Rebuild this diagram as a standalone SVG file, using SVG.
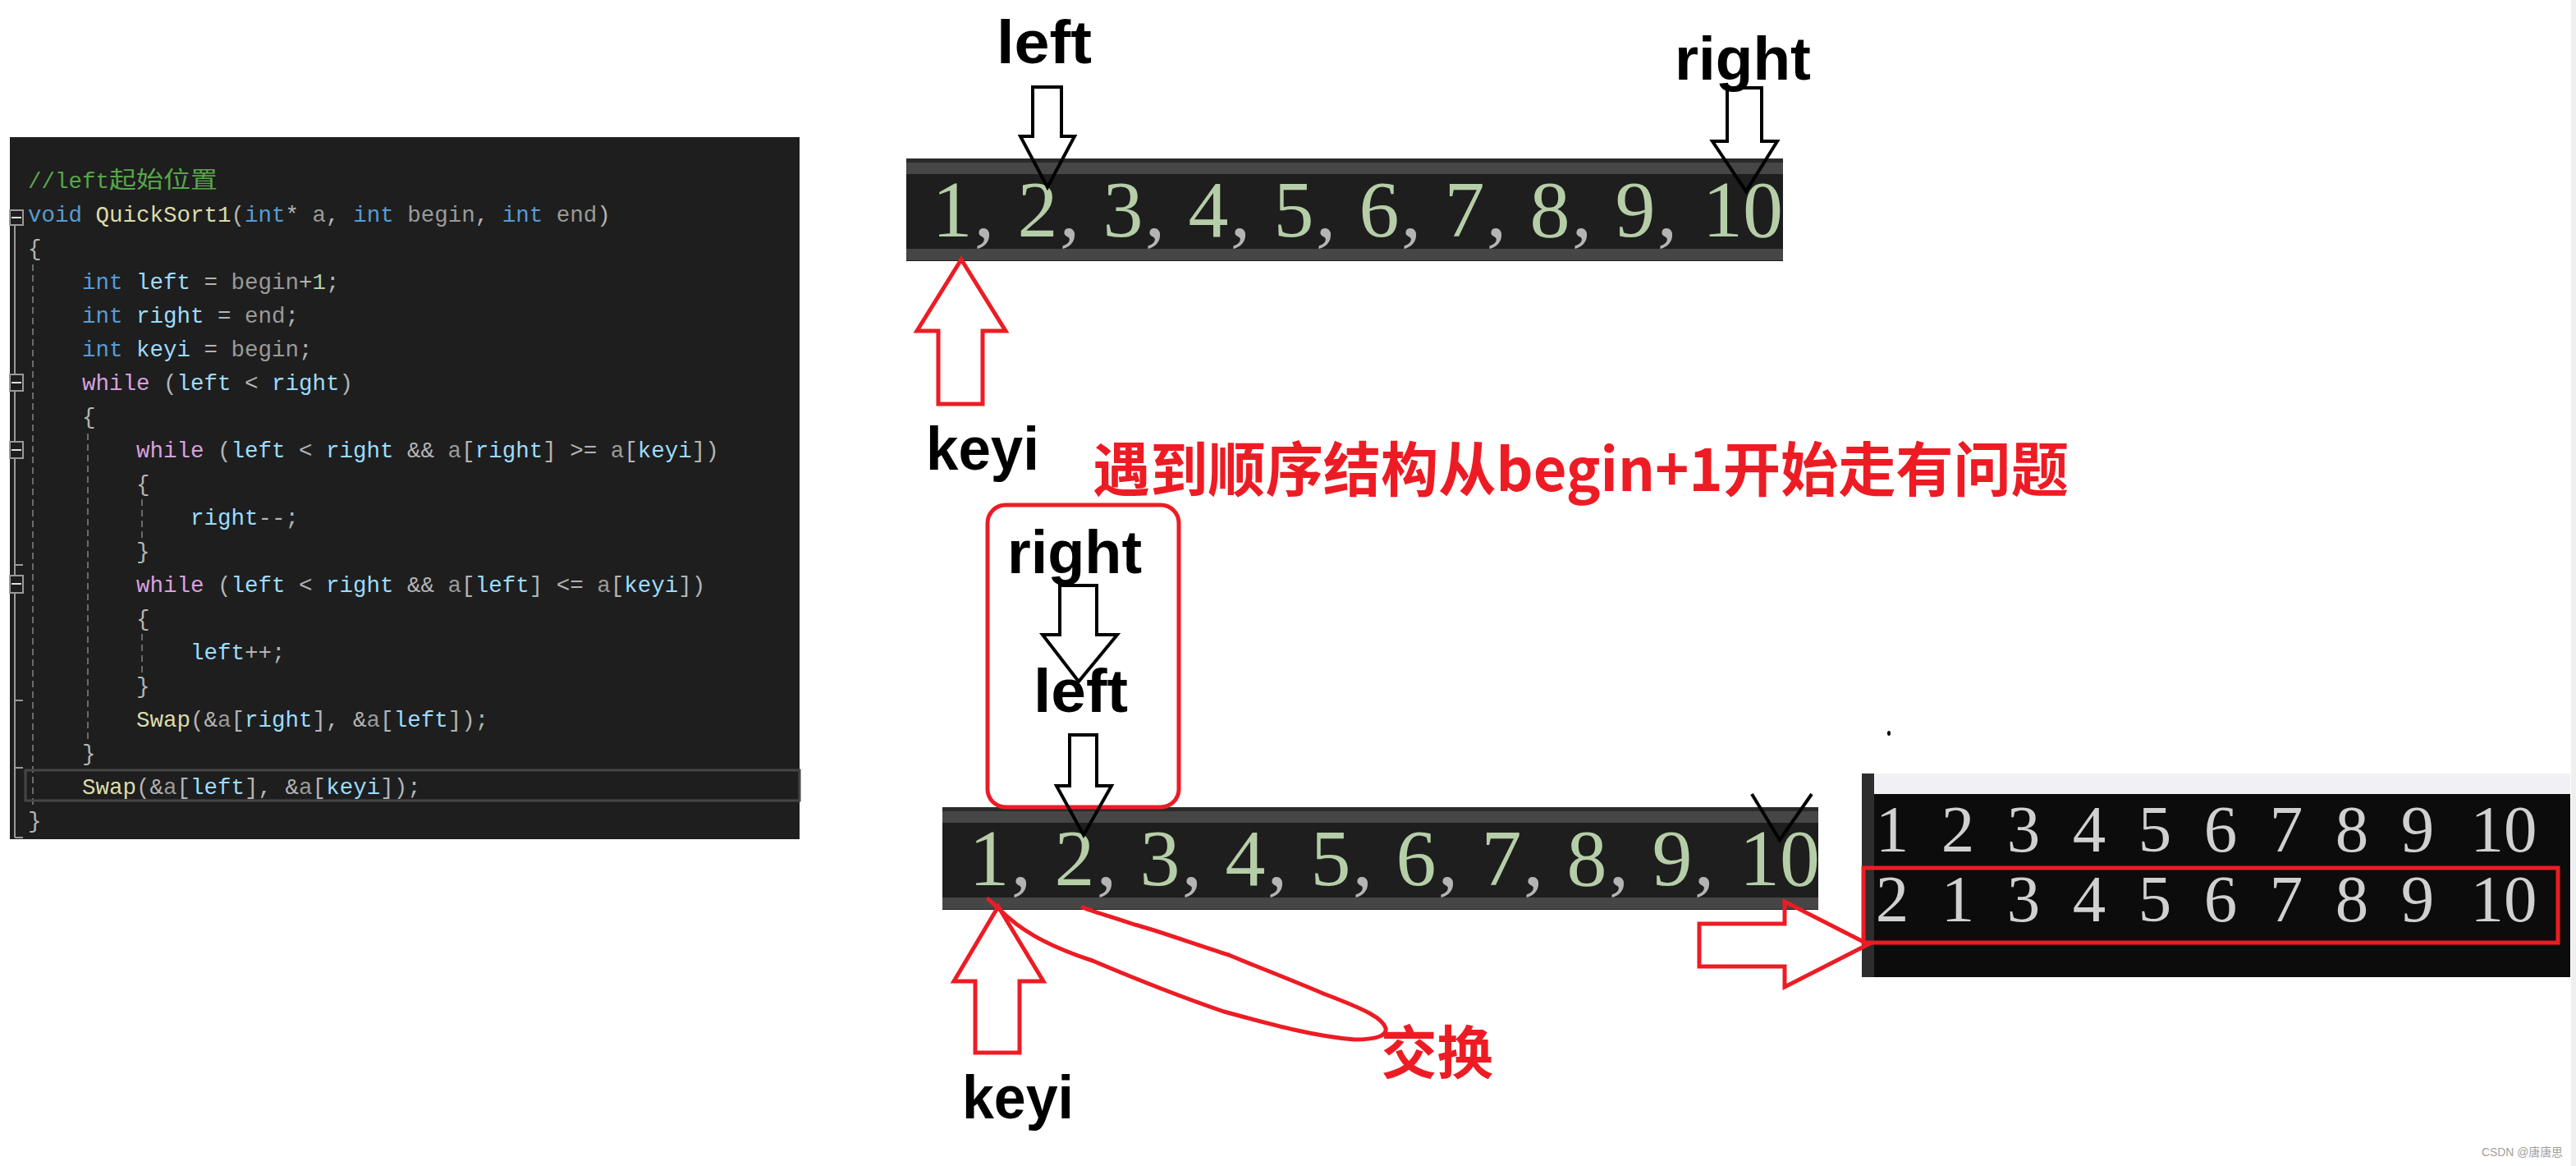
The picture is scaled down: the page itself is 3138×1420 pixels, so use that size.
<svg xmlns="http://www.w3.org/2000/svg" width="3138" height="1420" viewBox="0 0 3138 1420">
<style>
.code{font-family:"Liberation Mono","DejaVu Sans Mono",monospace;font-size:27.5px}
.cjkc{font-family:"Noto Sans CJK SC",sans-serif;font-size:28px;fill:#57A64A}
.k{fill:#569CD6}.c{fill:#D8A0DF}.f{fill:#DCDCAA}.p{fill:#9A9A9A}.v{fill:#9CDCFE}.o{fill:#B4B4B4}.n{fill:#B5CEA8}.cm{fill:#57A64A}
.lbl{font-family:"Liberation Sans","Noto Sans",sans-serif;font-weight:bold;font-size:75px;fill:#000}
.red{font-family:"Noto Sans CJK SC","Liberation Sans",sans-serif;font-weight:bold;fill:#ED1C24}
.dig{font-family:"Liberation Serif",serif;font-size:98px;fill:#B5CEA8;text-anchor:middle}
.com{font-family:"Liberation Serif",serif;font-size:98px;fill:#B4B4B4;text-anchor:middle}
.cdig{font-family:"Liberation Serif",serif;font-size:81px;fill:#D0D0D0;text-anchor:middle}
.barrow{fill:none;stroke:#000;stroke-width:4;stroke-linejoin:miter}
.rarrow{fill:none;stroke:#ED1C24;stroke-width:5;stroke-linejoin:miter}
.band{fill:#464646}
.fold{fill:#1e1e1e;stroke:#9a9a9a;stroke-width:2}
.guide{stroke:#6a6a6a;stroke-width:2;stroke-dasharray:8,5}
</style>
<defs>
<clipPath id="clipTop"><rect x="1104" y="193" width="1068" height="125"/></clipPath>
<clipPath id="clipBot"><rect x="1148" y="983" width="1067" height="125"/></clipPath>
</defs>
<rect x="0" y="0" width="3138" height="1420" fill="#ffffff"/>
<rect x="3132" y="0" width="6" height="1420" fill="#efefef"/>

<g id="code-panel">
<rect x="12" y="167" width="962" height="855" fill="#1e1e1e"/>
<g id="code-margin">
<line x1="18" y1="273" x2="18" y2="1020" stroke="#9a9a9a" stroke-width="2"/>
<line x1="18" y1="688" x2="28" y2="688" stroke="#9a9a9a" stroke-width="2"/>
<line x1="18" y1="853" x2="28" y2="853" stroke="#9a9a9a" stroke-width="2"/>
<line x1="18" y1="935" x2="28" y2="935" stroke="#9a9a9a" stroke-width="2"/>
<line x1="18" y1="1020" x2="28" y2="1020" stroke="#9a9a9a" stroke-width="2"/>
<rect class="fold" x="12" y="256" width="16" height="18"/><line x1="14" y1="265" x2="26" y2="265" stroke="#e0e0e0" stroke-width="2"/>
<rect class="fold" x="12" y="456" width="16" height="20"/><line x1="14" y1="466" x2="26" y2="466" stroke="#e0e0e0" stroke-width="2"/>
<rect class="fold" x="12" y="538" width="16" height="20"/><line x1="14" y1="548" x2="26" y2="548" stroke="#e0e0e0" stroke-width="2"/>
<rect class="fold" x="12" y="701" width="16" height="21"/><line x1="14" y1="711" x2="26" y2="711" stroke="#e0e0e0" stroke-width="2"/>
<line class="guide" x1="40" y1="322" x2="40" y2="982"/>
<line class="guide" x1="107" y1="528" x2="107" y2="902"/>
<line class="guide" x1="173" y1="608" x2="173" y2="658"/>
<line class="guide" x1="173" y1="772" x2="173" y2="820"/>
<rect x="31" y="938" width="943" height="37" fill="none" stroke="#464646" stroke-width="3"/>
</g>
<g id="code-text" class="code">
<text x="34" y="229" class="cm">//left</text>
<text x="133" y="229" class="cjkc" textLength="132" lengthAdjust="spacingAndGlyphs">起始位置</text>
<text x="34" y="270"><tspan class="k">void</tspan><tspan class="f"> QuickSort1</tspan><tspan class="o">(</tspan><tspan class="k">int</tspan><tspan class="o">* </tspan><tspan class="p">a</tspan><tspan class="o">, </tspan><tspan class="k">int</tspan><tspan class="p"> begin</tspan><tspan class="o">, </tspan><tspan class="k">int</tspan><tspan class="p"> end</tspan><tspan class="o">)</tspan></text>
<text x="34" y="311" class="o">{</text>
<text x="100" y="352"><tspan class="k">int</tspan><tspan class="v"> left</tspan><tspan class="o"> = </tspan><tspan class="p">begin</tspan><tspan class="o">+</tspan><tspan class="n">1</tspan><tspan class="o">;</tspan></text>
<text x="100" y="393"><tspan class="k">int</tspan><tspan class="v"> right</tspan><tspan class="o"> = </tspan><tspan class="p">end</tspan><tspan class="o">;</tspan></text>
<text x="100" y="434"><tspan class="k">int</tspan><tspan class="v"> keyi</tspan><tspan class="o"> = </tspan><tspan class="p">begin</tspan><tspan class="o">;</tspan></text>
<text x="100" y="475"><tspan class="c">while</tspan><tspan class="o"> (</tspan><tspan class="v">left</tspan><tspan class="o"> &lt; </tspan><tspan class="v">right</tspan><tspan class="o">)</tspan></text>
<text x="100" y="516" class="o">{</text>
<text x="166" y="557"><tspan class="c">while</tspan><tspan class="o"> (</tspan><tspan class="v">left</tspan><tspan class="o"> &lt; </tspan><tspan class="v">right</tspan><tspan class="o"> &amp;&amp; </tspan><tspan class="p">a</tspan><tspan class="o">[</tspan><tspan class="v">right</tspan><tspan class="o">] &gt;= </tspan><tspan class="p">a</tspan><tspan class="o">[</tspan><tspan class="v">keyi</tspan><tspan class="o">])</tspan></text>
<text x="166" y="598" class="o">{</text>
<text x="232" y="639"><tspan class="v">right</tspan><tspan class="o">--;</tspan></text>
<text x="166" y="680" class="o">}</text>
<text x="166" y="721"><tspan class="c">while</tspan><tspan class="o"> (</tspan><tspan class="v">left</tspan><tspan class="o"> &lt; </tspan><tspan class="v">right</tspan><tspan class="o"> &amp;&amp; </tspan><tspan class="p">a</tspan><tspan class="o">[</tspan><tspan class="v">left</tspan><tspan class="o">] &lt;= </tspan><tspan class="p">a</tspan><tspan class="o">[</tspan><tspan class="v">keyi</tspan><tspan class="o">])</tspan></text>
<text x="166" y="762" class="o">{</text>
<text x="232" y="803"><tspan class="v">left</tspan><tspan class="o">++;</tspan></text>
<text x="166" y="844" class="o">}</text>
<text x="166" y="885"><tspan class="f">Swap</tspan><tspan class="o">(&amp;</tspan><tspan class="p">a</tspan><tspan class="o">[</tspan><tspan class="v">right</tspan><tspan class="o">], &amp;</tspan><tspan class="p">a</tspan><tspan class="o">[</tspan><tspan class="v">left</tspan><tspan class="o">]);</tspan></text>
<text x="100" y="926" class="o">}</text>
<text x="100" y="967"><tspan class="f">Swap</tspan><tspan class="o">(&amp;</tspan><tspan class="p">a</tspan><tspan class="o">[</tspan><tspan class="v">left</tspan><tspan class="o">], &amp;</tspan><tspan class="p">a</tspan><tspan class="o">[</tspan><tspan class="v">keyi</tspan><tspan class="o">]);</tspan></text>
<text x="34" y="1008" class="o">}</text>
</g>
</g>

<g id="array-top">
<rect x="1104" y="193" width="1068" height="125" fill="#1e1e1e"/>
<rect x="1104" y="193" width="1068" height="5" fill="#2a2a2a"/>
<rect class="band" x="1104" y="198" width="1068" height="14"/>
<rect class="band" x="1104" y="303" width="1068" height="14"/>
<g clip-path="url(#clipTop)">
<text class="dig" y="288"><tspan x="1160">1</tspan><tspan x="1264">2</tspan><tspan x="1368">3</tspan><tspan x="1472">4</tspan><tspan x="1576">5</tspan><tspan x="1680">6</tspan><tspan x="1784">7</tspan><tspan x="1888">8</tspan><tspan x="1992">9</tspan><tspan x="2123">10</tspan></text>
<text class="com" y="288"><tspan x="1199">,</tspan><tspan x="1303">,</tspan><tspan x="1407">,</tspan><tspan x="1511">,</tspan><tspan x="1615">,</tspan><tspan x="1719">,</tspan><tspan x="1823">,</tspan><tspan x="1927">,</tspan><tspan x="2031">,</tspan></text>
</g>
</g>

<g id="label-left-top">
<text class="lbl" x="1214" y="77" textLength="116" lengthAdjust="spacingAndGlyphs">left</text>
</g>
<g id="label-right-top">
<text class="lbl" x="2040" y="97" textLength="166" lengthAdjust="spacingAndGlyphs">right</text>
</g>
<g id="label-keyi-top">
<text class="lbl" x="1128" y="572" textLength="138" lengthAdjust="spacingAndGlyphs">keyi</text>
</g>
<g id="title">
<text class="red" x="1331" y="598" font-size="72" textLength="1189" lengthAdjust="spacingAndGlyphs">遇到顺序结构从begin+1开始走有问题</text>
</g>

<g id="array-bottom">
<rect x="1148" y="983" width="1067" height="125" fill="#1e1e1e"/>
<rect x="1148" y="983" width="1067" height="5" fill="#2a2a2a"/>
<rect class="band" x="1148" y="988" width="1067" height="14"/>
<rect class="band" x="1148" y="1093" width="1067" height="14"/>
<g clip-path="url(#clipBot)">
<text class="dig" y="1078"><tspan x="1205">1</tspan><tspan x="1309">2</tspan><tspan x="1413">3</tspan><tspan x="1517">4</tspan><tspan x="1621">5</tspan><tspan x="1725">6</tspan><tspan x="1829">7</tspan><tspan x="1933">8</tspan><tspan x="2037">9</tspan><tspan x="2168">10</tspan></text>
<text class="com" y="1078"><tspan x="1244">,</tspan><tspan x="1348">,</tspan><tspan x="1452">,</tspan><tspan x="1556">,</tspan><tspan x="1660">,</tspan><tspan x="1764">,</tspan><tspan x="1868">,</tspan><tspan x="1972">,</tspan><tspan x="2076">,</tspan></text>
</g>
</g>

<g id="box-right-left">
<rect x="1203" y="615" width="233" height="368" rx="22" ry="22" fill="none" stroke="#ED1C24" stroke-width="5"/>
<text class="lbl" x="1227" y="698" textLength="164" lengthAdjust="spacingAndGlyphs">right</text>
<text class="lbl" x="1259" y="867" textLength="115" lengthAdjust="spacingAndGlyphs">left</text>
</g>

<g id="label-keyi-bottom">
<text class="lbl" x="1172" y="1362" textLength="136" lengthAdjust="spacingAndGlyphs">keyi</text>
</g>
<g id="label-swap">
<text class="red" x="1682" y="1308" font-size="70" textLength="137" lengthAdjust="spacingAndGlyphs">交换</text>
</g>

<g id="console">
<rect x="2268" y="942" width="15" height="248" fill="#2d2d2d"/>
<rect x="2283" y="942" width="848" height="25" fill="#f0f0f5"/>
<rect x="2283" y="967" width="848" height="223" fill="#0c0c0c"/>
<text class="cdig" y="1037"><tspan x="2305">1</tspan><tspan x="2385">2</tspan><tspan x="2465">3</tspan><tspan x="2545">4</tspan><tspan x="2625">5</tspan><tspan x="2705">6</tspan><tspan x="2785">7</tspan><tspan x="2865">8</tspan><tspan x="2945">9</tspan><tspan x="3050">10</tspan></text>
<text class="cdig" y="1122"><tspan x="2305">2</tspan><tspan x="2385">1</tspan><tspan x="2465">3</tspan><tspan x="2545">4</tspan><tspan x="2625">5</tspan><tspan x="2705">6</tspan><tspan x="2785">7</tspan><tspan x="2865">8</tspan><tspan x="2945">9</tspan><tspan x="3050">10</tspan></text>
<rect x="2270" y="1057" width="846" height="91" fill="none" stroke="#ED1C24" stroke-width="5"/>
</g>

<g id="connectors">
<polygon class="barrow" points="1258,106 1293,106 1293,166 1309,166 1276,228 1243,166 1258,166"/>
<polygon class="barrow" points="2104,107 2146,107 2146,172 2165,172 2127,233 2086,172 2104,172"/>
<polygon class="barrow" points="1291,713 1336,713 1336,773 1361,773 1314,830 1270,773 1291,773" stroke-width="5"/>
<polygon class="barrow" points="1303,895 1336,895 1336,957 1354,957 1320,1017 1287,957 1303,957"/>
<polyline points="2134,967 2168,1023 2207,967" fill="none" stroke="#000" stroke-width="4"/>
<polygon class="rarrow" points="1171,316 1225,403 1197,403 1197,492 1143,492 1143,403 1117,403"/>
<polygon class="rarrow" points="1216,1104 1271,1195 1242,1195 1242,1282 1188,1282 1188,1195 1162,1195"/>
<polygon class="rarrow" points="2070,1125 2174,1125 2174,1098 2276,1150 2174,1202 2174,1177 2070,1177"/>
<path d="M1204,1095 L1217,1107 C1240,1130 1270,1150 1331,1170 C1390,1195 1450,1218 1491,1232 C1550,1248 1600,1262 1650,1266 C1675,1266 1690,1262 1688,1252 C1684,1240 1665,1230 1612,1210 C1570,1192 1520,1173 1497,1163 C1450,1148 1400,1130 1382,1126 C1350,1115 1330,1110 1319,1105" fill="none" stroke="#ED1C24" stroke-width="5" stroke-linejoin="round" stroke-linecap="round"/>
</g>

<ellipse cx="2301" cy="893" rx="2" ry="3" fill="#000"/>
<text x="3023" y="1408" font-family="Liberation Sans, Noto Sans CJK SC, sans-serif" font-size="14" fill="#a0a0a0" textLength="99" lengthAdjust="spacingAndGlyphs">CSDN @唐唐思</text>
</svg>
